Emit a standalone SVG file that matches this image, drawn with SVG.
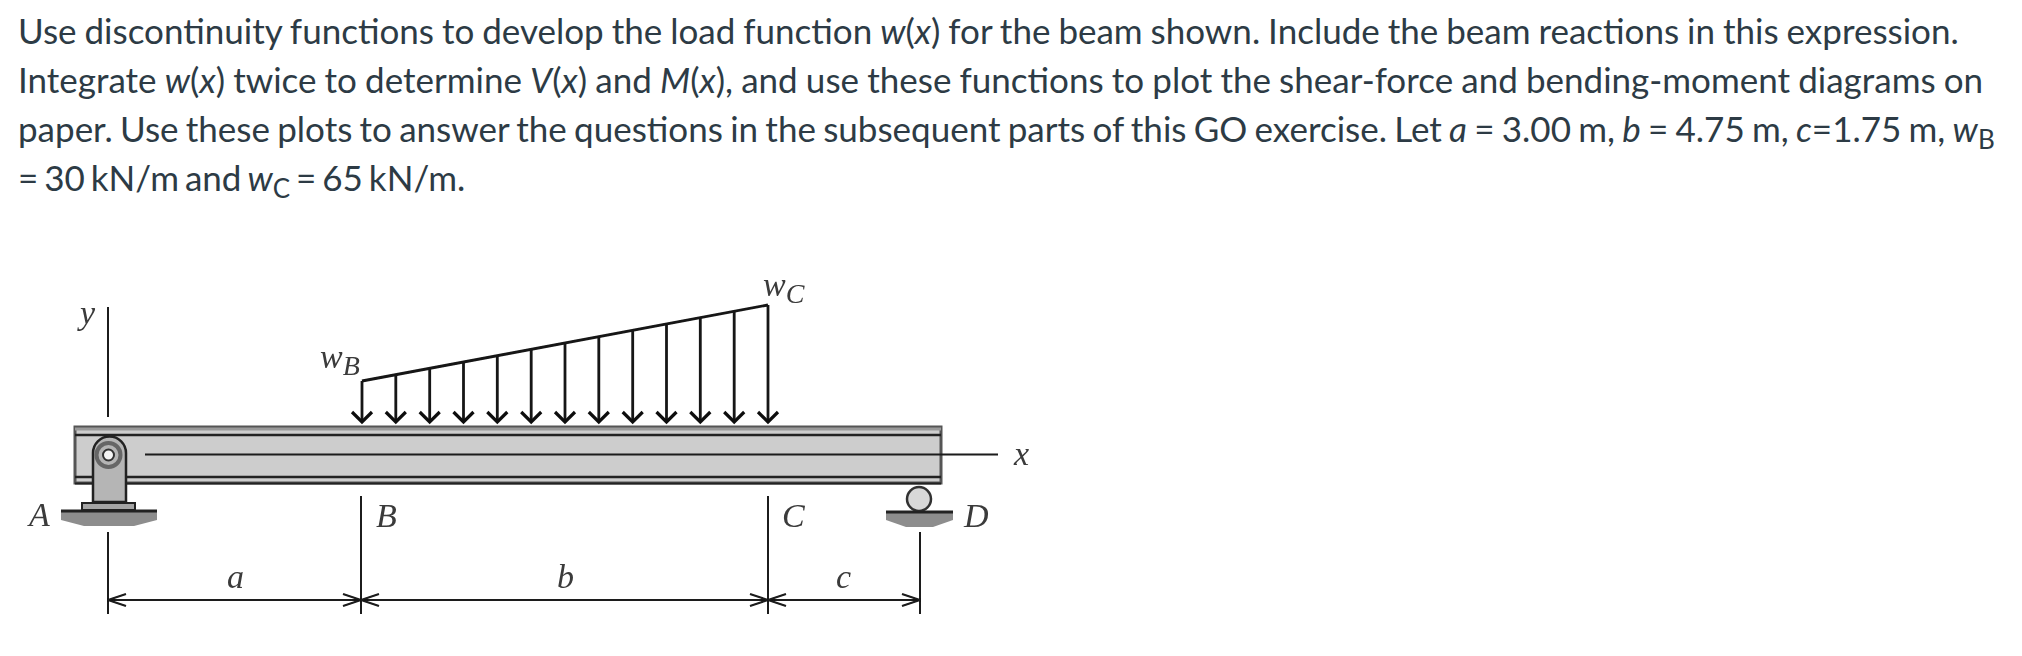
<svg xmlns="http://www.w3.org/2000/svg" width="2022" height="656" viewBox="0 0 2022 656">
<style>
.q{font-family:"Lato","Liberation Sans",sans-serif;font-size:35px;fill:#2d3b45}
.i{font-style:italic}
.s{font-size:26px}
.l{font-family:"Liberation Serif",serif;font-style:italic;font-size:34px;fill:#3a3a3a}
.k{stroke:#1a1a1a;stroke-width:2;fill:none}
.a{stroke:#141414;stroke-width:2.8;fill:none}
</style>
<defs>
<filter id="soft" x="-5%" y="-5%" width="110%" height="110%"><feGaussianBlur stdDeviation="0.7"/></filter>
<marker id="h" viewBox="0 0 20 14" refX="19" refY="7" markerWidth="20" markerHeight="14" markerUnits="userSpaceOnUse" orient="auto-start-reverse"><path d="M1 1L19 7L1 13" fill="none" stroke="#1a1a1a" stroke-width="2"/></marker>
<path id="ah" d="M-10 -10L0 0L10 -10" fill="none" stroke="#111" stroke-width="3.200"/>
</defs>
<g id="question">
<text class="q" x="18" y="44" word-spacing="-1">Use discontinuity functions to develop the load function <tspan class="i">w</tspan>(<tspan class="i">x</tspan>) for the beam shown. Include the beam reactions in this expression.</text>
<text class="q" x="18" y="93" word-spacing="-0.8">Integrate <tspan class="i">w</tspan>(<tspan class="i">x</tspan>) twice to determine <tspan class="i">V</tspan>(<tspan class="i">x</tspan>) and <tspan class="i">M</tspan>(<tspan class="i">x</tspan>), and use these functions to plot the shear-force and bending-moment diagrams on</text>
<text class="q" x="18" y="142" word-spacing="-1.700">paper. Use these plots to answer the questions in the subsequent parts of this GO exercise. Let <tspan class="i">a</tspan> = 3.00 m, <tspan class="i">b</tspan> = 4.75 m, <tspan class="i">c</tspan>=1.75 m, <tspan class="i">w</tspan><tspan class="s" dy="7">B</tspan></text>
<text class="q" x="18" y="191" word-spacing="-3">= 30 kN/m and <tspan class="i">w</tspan><tspan class="s" dy="7">C</tspan><tspan dy="-7"> = 65 kN/m.</tspan></text>
</g>
<g filter="url(#soft)">
<g id="beam">
<rect x="75" y="427" width="866" height="56" fill="#cdcdcd" stroke="#555" stroke-width="3"/>
<path d="M75 435H941M75 477H941" stroke="#222" stroke-width="2.500" fill="none"/>
<path d="M75 429H941" stroke="#999" stroke-width="3" fill="none"/>
<path d="M75 483.500H941" stroke="#222" stroke-width="2" fill="none"/>
</g>
<g id="support-A">
<path d="M93 502V453A16.500 16.500 0 0 1 126 453V502Z" fill="#b5b5b5" stroke="#222" stroke-width="2.500"/>
<circle cx="108.500" cy="455" r="12" fill="#b5b5b5" stroke="#666" stroke-width="4"/>
<circle cx="108.500" cy="455" r="5.500" fill="#f5f5f5" stroke="#333" stroke-width="2"/>
<rect x="82" y="503" width="53" height="7" fill="#a5a5a5" stroke="#222" stroke-width="2"/>
<path d="M61 511H157V520L134 526H84L61 520Z" fill="#8d8d8d"/>
<path d="M61 511H157" stroke="#222" stroke-width="3"/>
</g>
<g id="support-D">
<circle cx="919" cy="499" r="12" fill="#d8d8d8" stroke="#333" stroke-width="2.500"/>
<path d="M886 512H953V520L933 527H906L886 520Z" fill="#8d8d8d"/>
<path d="M886 512H953" stroke="#222" stroke-width="3"/>
</g>
<g id="load">
<path d="M362 381L768 305" class="a"/>
</g>
<g id="connectors">
<path class="a" d="M362.000 381V422M395.800 375V422M429.700 368V422M463.500 362V422M497.300 356V422M531.200 349V422M565.000 343V422M598.800 337V422M632.700 330V422M666.500 324V422M700.300 318V422M734.200 311V422M768.000 305V422"/>
<use href="#ah" x="362" y="422"/><use href="#ah" x="395.800" y="422"/><use href="#ah" x="429.700" y="422"/><use href="#ah" x="463.500" y="422"/><use href="#ah" x="497.300" y="422"/><use href="#ah" x="531.200" y="422"/><use href="#ah" x="565" y="422"/><use href="#ah" x="598.800" y="422"/><use href="#ah" x="632.700" y="422"/><use href="#ah" x="666.500" y="422"/><use href="#ah" x="700.300" y="422"/><use href="#ah" x="734.200" y="422"/><use href="#ah" x="768" y="422"/>
<path class="k" d="M108 307V417M108 532V614M361 496V614M768 496V614M920 532V614"/>
<path d="M145 454.500H998" stroke="#1a1a1a" stroke-width="2" fill="none"/>
<path class="k" d="M108 600H361" marker-start="url(#h)" marker-end="url(#h)"/>
<path class="k" d="M361 600H768" marker-start="url(#h)" marker-end="url(#h)"/>
<path class="k" d="M768 600H920" marker-start="url(#h)" marker-end="url(#h)"/>
</g>
<g id="labels">
<text class="l" x="80" y="324">y</text>
<text class="l" x="320" y="368">w<tspan font-size="28" dy="7">B</tspan></text>
<text class="l" x="763" y="296">w<tspan font-size="28" dy="7">C</tspan></text>
<text class="l" x="29" y="526">A</text>
<text class="l" x="376" y="527">B</text>
<text class="l" x="782" y="527">C</text>
<text class="l" x="964" y="527">D</text>
<text class="l" x="1014" y="465">x</text>
<text class="l" x="227" y="588">a</text>
<text class="l" x="557" y="588">b</text>
<text class="l" x="836" y="588">c</text>
</g>
</g>
</svg>
